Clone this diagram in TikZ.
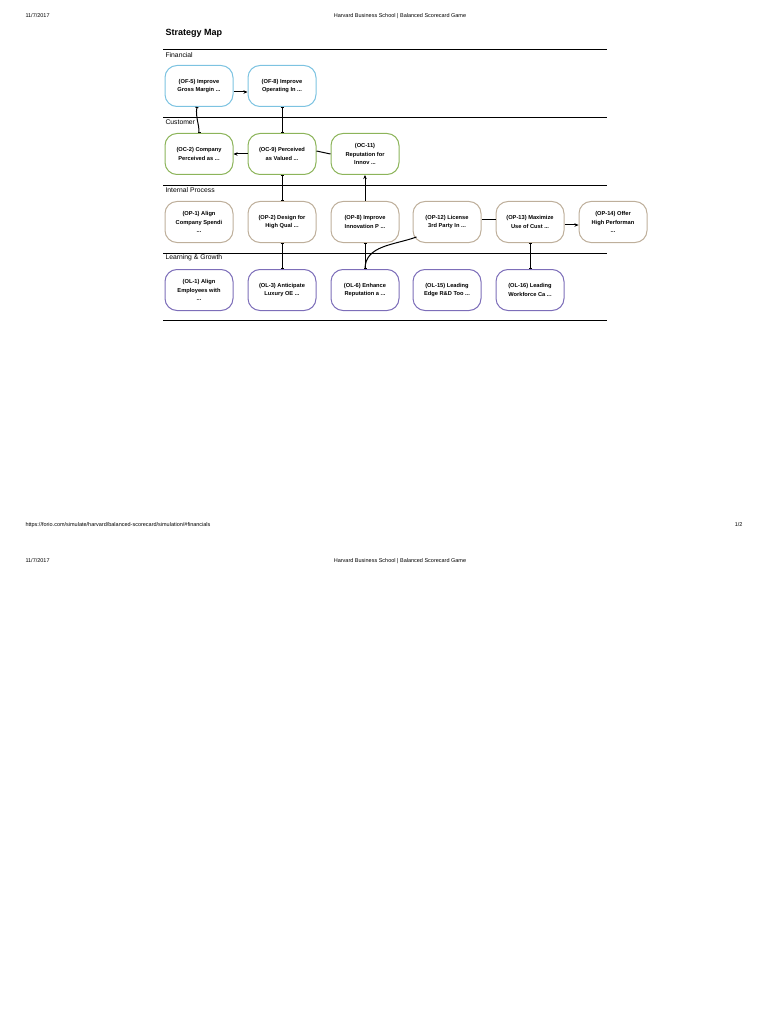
\documentclass[tikz,border=0pt]{standalone}
\usepackage{fontspec}
\setmainfont{Liberation Sans}
\usetikzlibrary{arrows.meta}
\definecolor{cfin}{RGB}{125,195,225}
\definecolor{ccus}{RGB}{140,180,90}
\definecolor{cint}{RGB}{190,175,155}
\definecolor{clg}{RGB}{125,110,185}
\begin{document}
\begin{tikzpicture}[x=1pt,y=-1pt,
  obj/.style={draw,line width=1pt,rounded corners=12pt,minimum width=68pt,minimum height=41pt,align=center,font=\fontsize{5.7}{8.5}\selectfont\bfseries,inner sep=1pt},
  fin/.style={obj,draw=cfin},cus/.style={obj,draw=ccus},int/.style={obj,draw=cint},lg/.style={obj,draw=clg},
  sec/.style={anchor=west,font=\fontsize{6.8}{8}\selectfont},
  hdr/.style={font=\fontsize{5.5}{7}\selectfont},
  con/.style={line width=1pt},
  arr/.style={con,-{Stealth[length=4pt,width=3.5pt]}},
  bar/.style={con,{Bar[width=3pt]}-{Bar[width=3pt]}}]
\useasboundingbox (0,0) rectangle (768,1024);
\node[hdr,anchor=west] (d1) at (22,16) {11/7/2017};
\node[hdr] (t1) at (400,16) {Harvard Business School | Balanced Scorecard Game};
\node[anchor=west,font=\fontsize{9}{10}\selectfont\bfseries] (sm) at (162,33) {Strategy Map};
\foreach \y in {49,117,185,253,320} \draw[line width=0.7pt] (163,\y) -- (607,\y);
\node[sec] (s1) at (162,55) {Financial};
\node[sec] (s2) at (162,122) {Customer};
\node[sec] (s3) at (162,190) {Internal Process};
\node[sec] (s4) at (162,258) {Learning \& Growth};
\node[fin] (of5) at (199,86) {(OF-5) Improve\\Gross Margin ...};
\node[fin] (of8) at (282,86) {(OF-8) Improve\\Operating In ...};
\node[cus] (oc2) at (199,154) {(OC-2) Company\\Perceived as ...};
\node[cus] (oc9) at (282,154) {(OC-9) Perceived\\as Valued ...};
\node[cus] (oc11) at (365,154) {(OC-11)\\Reputation for\\Innov ...};
\node[int] (op1) at (199,222) {(OP-1) Align\\Company Spendi\\...};
\node[int] (op2) at (282,222) {(OP-2) Design for\\High Qual ...};
\node[int] (op8) at (365,222) {(OP-8) Improve\\Innovation P ...};
\node[int] (op12) at (447,222) {(OP-12) License\\3rd Party In ...};
\node[int] (op13) at (530,222) {(OP-13) Maximize\\Use of Cust ...};
\node[int] (op14) at (613,222) {(OP-14) Offer\\High Performan\\...};
\node[lg] (ol1) at (199,290) {(OL-1) Align\\Employees with\\...};
\node[lg] (ol3) at (282,290) {(OL-3) Anticipate\\Luxury OE ...};
\node[lg] (ol6) at (365,290) {(OL-6) Enhance\\Reputation a ...};
\node[lg] (ol15) at (447,290) {(OL-15) Leading\\Edge R\&D Too ...};
\node[lg] (ol16) at (530,290) {(OL-16) Leading\\Workforce Ca ...};
\draw[arr] (of5.east) ++(0,6) coordinate (a1) (a1) -- (of8.west|-a1);
\draw[bar] (of5.south) ++(-2,0) to[out=-100,in=90] (oc2.north);
\draw[bar] (of8.south) -- (oc9.north);
\draw[arr] (oc9.west) -- (oc2.east);
\draw[con] (oc9.east) ++(0,-3) coordinate (c1) (c1) -- (oc11.west);
\draw[bar] (oc9.south) -- (op2.north);
\draw[arr] (op8.north) -- (oc11.south);
\draw[bar] (ol3.north) -- (op2.south);
\draw[bar] (op8.south) -- (ol6.north);
\draw[con] (op12.south west) ++(4,-6) coordinate (c2) (c2) to[out=200,in=90] (ol6.north);
\draw[con] (op13.west) ++(0,-2) coordinate (c3) (c3) -- (op12.east|-c3);
\draw[arr] (op13.east) ++(0,3) coordinate (c4) (c4) -- (op14.west|-c4);
\draw[bar] (ol16.north) -- (op13.south);
\node[hdr,anchor=west] (u1) at (22,525) {https://forio.com/simulate/harvard/balanced-scorecard/simulation/\#financials};
\node[hdr,anchor=east] (p1) at (746,525) {1/2};
\node[hdr,anchor=west] (d2) at (22,561) {11/7/2017};
\node[hdr] (t2) at (400,561) {Harvard Business School | Balanced Scorecard Game};
\end{tikzpicture}
\end{document}
